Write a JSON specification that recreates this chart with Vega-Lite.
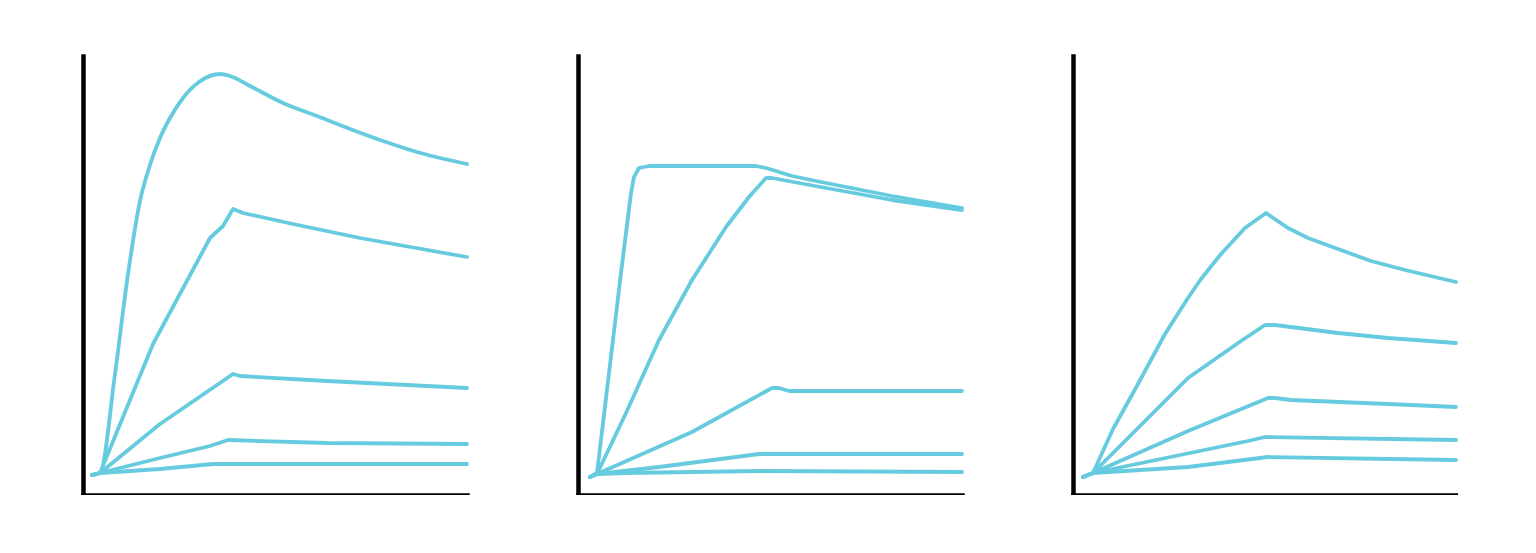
{
  "$schema": "https://vega.github.io/schema/vega-lite/v6.json",
  "background": "#ffffff",
  "padding": {"left": 83, "top": 56, "right": 0, "bottom": 0},
  "spacing": 109,
  "datasets": {
    "p1": [
      {"s":1,"x":9,"y":20},{"s":1,"x":17,"y":22},{"s":1,"x":32,"y":121},{"s":1,"x":45,"y":221},{"s":1,"x":57,"y":294},{"s":1,"x":66,"y":327},{"s":1,"x":77,"y":357},{"s":1,"x":87,"y":377},{"s":1,"x":100,"y":397},{"s":1,"x":116,"y":413},{"s":1,"x":137,"y":421},{"s":1,"x":147,"y":419},{"s":1,"x":167,"y":409},{"s":1,"x":200,"y":392},{"s":1,"x":234,"y":379},{"s":1,"x":267,"y":366},{"s":1,"x":300,"y":354},{"s":1,"x":334,"y":343},{"s":1,"x":384,"y":331},
      {"s":2,"x":9,"y":20},{"s":2,"x":17,"y":22},{"s":2,"x":70,"y":151},{"s":2,"x":127,"y":257},{"s":2,"x":140,"y":269},{"s":2,"x":150,"y":286},{"s":2,"x":160,"y":282},{"s":2,"x":210,"y":271},{"s":2,"x":277,"y":257},{"s":2,"x":384,"y":238},
      {"s":3,"x":9,"y":20},{"s":3,"x":17,"y":22},{"s":3,"x":77,"y":71},{"s":3,"x":150,"y":121},{"s":3,"x":157,"y":119},{"s":3,"x":244,"y":114},{"s":3,"x":384,"y":107},
      {"s":4,"x":9,"y":20},{"s":4,"x":17,"y":22},{"s":4,"x":77,"y":37},{"s":4,"x":127,"y":49},{"s":4,"x":145,"y":55},{"s":4,"x":244,"y":52},{"s":4,"x":384,"y":51},
      {"s":5,"x":9,"y":20},{"s":5,"x":17,"y":22},{"s":5,"x":77,"y":26},{"s":5,"x":130,"y":31},{"s":5,"x":384,"y":31}
    ],
    "p2": [
      {"s":1,"x":12,"y":18},{"s":1,"x":19,"y":22},{"s":1,"x":43,"y":222},{"s":1,"x":53,"y":302},{"s":1,"x":56,"y":318},{"s":1,"x":61,"y":327},{"s":1,"x":71,"y":329},{"s":1,"x":178,"y":329},{"s":1,"x":188,"y":327},{"s":1,"x":214,"y":319},{"s":1,"x":248,"y":312},{"s":1,"x":314,"y":299},{"s":1,"x":384,"y":287},
      {"s":2,"x":12,"y":18},{"s":2,"x":19,"y":21},{"s":2,"x":48,"y":82},{"s":2,"x":81,"y":155},{"s":2,"x":114,"y":215},{"s":2,"x":148,"y":268},{"s":2,"x":171,"y":298},{"s":2,"x":188,"y":317},{"s":2,"x":194,"y":317},{"s":2,"x":248,"y":307},{"s":2,"x":314,"y":295},{"s":2,"x":384,"y":285},
      {"s":3,"x":12,"y":18},{"s":3,"x":19,"y":21},{"s":3,"x":114,"y":63},{"s":3,"x":194,"y":107},{"s":3,"x":201,"y":107},{"s":3,"x":211,"y":104},{"s":3,"x":384,"y":104},
      {"s":4,"x":12,"y":18},{"s":4,"x":19,"y":21},{"s":4,"x":81,"y":28},{"s":4,"x":181,"y":41},{"s":4,"x":384,"y":41},
      {"s":5,"x":12,"y":18},{"s":5,"x":19,"y":21},{"s":5,"x":48,"y":22},{"s":5,"x":181,"y":24},{"s":5,"x":384,"y":23}
    ],
    "p3": [
      {"s":1,"x":10,"y":18},{"s":1,"x":20,"y":22},{"s":1,"x":40,"y":66},{"s":1,"x":65,"y":111},{"s":1,"x":92,"y":161},{"s":1,"x":115,"y":197},{"s":1,"x":128,"y":216},{"s":1,"x":148,"y":241},{"s":1,"x":172,"y":267},{"s":1,"x":193,"y":282},{"s":1,"x":215,"y":267},{"s":1,"x":235,"y":257},{"s":1,"x":265,"y":246},{"s":1,"x":298,"y":234},{"s":1,"x":332,"y":225},{"s":1,"x":383,"y":213},
      {"s":2,"x":10,"y":18},{"s":2,"x":20,"y":22},{"s":2,"x":115,"y":117},{"s":2,"x":168,"y":154},{"s":2,"x":192,"y":170},{"s":2,"x":202,"y":170},{"s":2,"x":265,"y":162},{"s":2,"x":315,"y":157},{"s":2,"x":383,"y":152},
      {"s":3,"x":10,"y":18},{"s":3,"x":20,"y":22},{"s":3,"x":115,"y":64},{"s":3,"x":195,"y":97},{"s":3,"x":202,"y":97},{"s":3,"x":218,"y":95},{"s":3,"x":315,"y":91},{"s":3,"x":383,"y":88},
      {"s":4,"x":10,"y":18},{"s":4,"x":20,"y":22},{"s":4,"x":175,"y":54},{"s":4,"x":192,"y":58},{"s":4,"x":383,"y":55},
      {"s":5,"x":10,"y":18},{"s":5,"x":20,"y":22},{"s":5,"x":115,"y":28},{"s":5,"x":195,"y":38},{"s":5,"x":383,"y":35}
    ]
  },
  "hconcat": [
    {
      "data": {"name": "p1"},
      "width": 384, "height": 439,
      "encoding": {
        "x": {"field": "x", "type": "quantitative", "scale": {"domain": [0, 384], "nice": false}},
        "y": {"field": "y", "type": "quantitative", "scale": {"domain": [0, 439], "nice": false}},
        "detail": {"field": "s", "type": "nominal"}
      },
      "layer": [
        {
          "transform": [{"filter": "datum.s == 1"}],
          "mark": {"type": "line", "color": "#66CBDE", "strokeWidth": 3.8, "strokeJoin": "round", "strokeCap": "round", "interpolate": "monotone"}
        },
        {
          "transform": [{"filter": "datum.s != 1"}],
          "mark": {"type": "line", "color": "#66CBDE", "strokeWidth": 3.8, "strokeJoin": "round", "strokeCap": "round"}
        }
      ]
    },
    {
      "data": {"name": "p2"},
      "width": 384, "height": 439,
      "mark": {"type": "line", "color": "#66CBDE", "strokeWidth": 3.8, "strokeJoin": "round", "strokeCap": "round"},
      "encoding": {
        "x": {"field": "x", "type": "quantitative", "scale": {"domain": [0, 384], "nice": false}},
        "y": {"field": "y", "type": "quantitative", "scale": {"domain": [0, 439], "nice": false}},
        "detail": {"field": "s", "type": "nominal"}
      }
    },
    {
      "data": {"name": "p3"},
      "width": 384, "height": 439,
      "mark": {"type": "line", "color": "#66CBDE", "strokeWidth": 3.8, "strokeJoin": "round", "strokeCap": "round"},
      "encoding": {
        "x": {"field": "x", "type": "quantitative", "scale": {"domain": [0, 384], "nice": false}},
        "y": {"field": "y", "type": "quantitative", "scale": {"domain": [0, 439], "nice": false}},
        "detail": {"field": "s", "type": "nominal"}
      }
    }
  ],
  "config": {
    "view": {"stroke": null},
    "axis": {"domainColor": "#000000", "domainWidth": 4.5, "domainCap": "square", "ticks": false, "labels": false, "grid": false, "title": null}
  }
}
